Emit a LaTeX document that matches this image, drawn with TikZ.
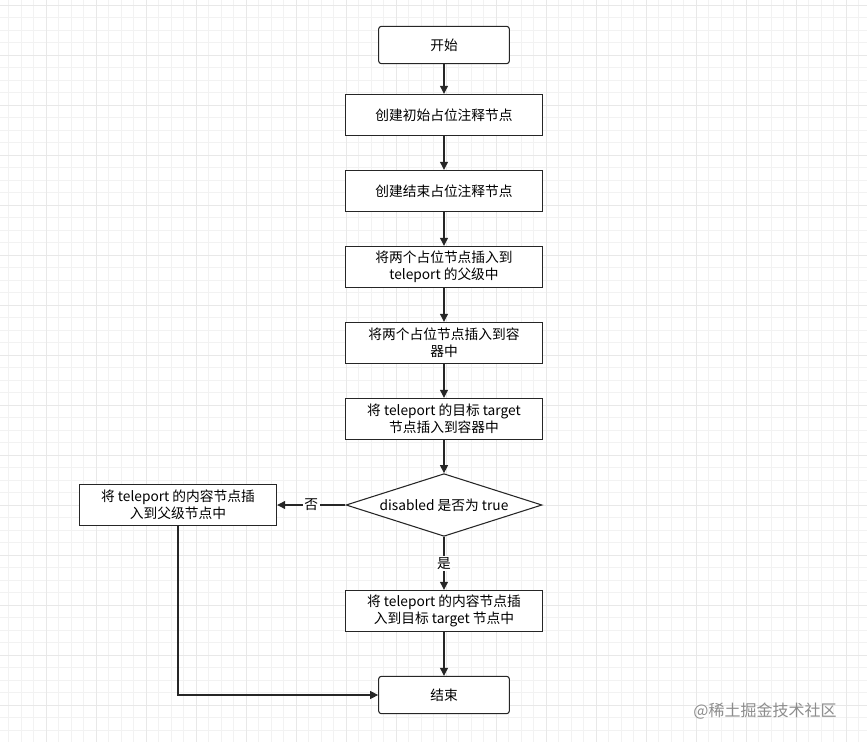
\documentclass[tikz,border=0pt]{standalone}
\usepackage{fontspec}
\setmainfont{Noto Sans CJK SC}
\usetikzlibrary{shapes.geometric,arrows.meta}
\tikzset{
  stepbox/.style={draw=black!85, thick, minimum width=148pt, minimum height=31pt, align=center, font=\fontsize{10.3}{13}\selectfont, fill=white},
  endbox/.style={stepbox, rounded corners=2pt, minimum width=98pt, minimum height=28pt},
  choice/.style={draw=black!85, thick, diamond, aspect=3.1, minimum width=147pt, minimum height=47pt, inner sep=0pt, font=\fontsize{10.3}{13}\selectfont, fill=white},
  flow/.style={thick, black!85, -{Triangle[length=6pt,width=6pt]}}
}
\begin{document}
\begin{tikzpicture}[x=0.75pt, y=-0.75pt]
  \useasboundingbox (0,0) rectangle (867,742);
  % grid
  \foreach \gx in {8.5,21,...,867} \draw[black!5] (\gx,0) -- (\gx,742);
  \foreach \gy in {5,17.5,...,742} \draw[black!5] (0,\gy) -- (867,\gy);
  \foreach \gx in {-4,46,...,867} \draw[black!9] (\gx,0) -- (\gx,742);
  \foreach \gy in {5,55,...,742} \draw[black!9] (0,\gy) -- (867,\gy);

  \node[endbox] (start) at (444,45) {开始};
  \node[stepbox] (mkstart) at (444,115) {创建初始占位注释节点};
  \node[stepbox] (mkend) at (444,191) {创建结束占位注释节点};
  \node[stepbox] (toparent) at (444,267) {将两个占位节点插入到\\teleport 的父级中};
  \node[stepbox] (tocont) at (444,343) {将两个占位节点插入到容\\器中};
  \node[stepbox] (target) at (444,419) {将 teleport 的目标 target\\节点插入到容器中};
  \node[choice] (dis) at (444,505) {disabled 是否为 true};
  \node[stepbox] (left) at (178,505) {将 teleport 的内容节点插\\入到父级节点中};
  \node[stepbox] (mount) at (444,611) {将 teleport 的内容节点插\\入到目标 target 节点中};
  \node[endbox] (finish) at (444,695) {结束};
  \coordinate (corner) at (178,695);

  \draw[flow] (start) -- (mkstart);
  \draw[flow] (mkstart) -- (mkend);
  \draw[flow] (mkend) -- (toparent);
  \draw[flow] (toparent) -- (tocont);
  \draw[flow] (tocont) -- (target);
  \draw[flow] (target) -- (dis);
  \draw[flow] (dis) -- node[fill=white, text=black, inner sep=1pt, font=\fontsize{10.3}{13}\selectfont] {否} (left);
  \draw[flow] (dis) -- node[fill=white, text=black, inner sep=1pt, font=\fontsize{10.3}{13}\selectfont] {是} (mount);
  \draw[flow] (mount) -- (finish);
  \draw[flow] (left) -- (corner) -- (finish);

  \node[text=black!45, font=\fontsize{12}{14}\selectfont] (mark) at (765,711) {@稀土掘金技术社区};
\end{tikzpicture}
\end{document}
